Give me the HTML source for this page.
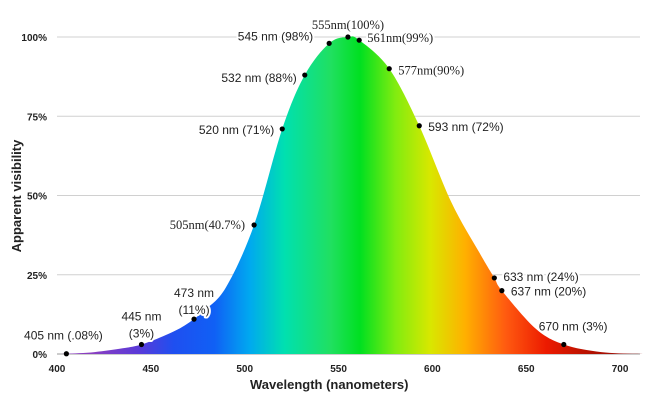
<!DOCTYPE html>
<html><head><meta charset="utf-8"><style>
html,body{margin:0;padding:0;background:#fff;}
svg{display:block;}
.lb{font-family:"Liberation Sans",sans-serif;font-size:12px;fill:#222;}
.sf{font-family:"Liberation Serif","Noto Serif CJK SC",serif;font-size:12.5px;fill:#222;}
.tk{font-family:"Liberation Sans",sans-serif;font-size:10px;font-weight:bold;fill:#222;}
</style></head><body>
<svg id="chart" width="650" height="409">
<defs>
<linearGradient id="spec" gradientUnits="userSpaceOnUse" x1="57" y1="0" x2="640" y2="0">
<stop offset="0.06" stop-color="#8a3fc0"/>
<stop offset="0.14" stop-color="#5a3ad8"/>
<stop offset="0.2" stop-color="#1f4ff0"/>
<stop offset="0.27" stop-color="#1060f5"/>
<stop offset="0.33" stop-color="#00a8f0"/>
<stop offset="0.39" stop-color="#00e0b0"/>
<stop offset="0.47" stop-color="#20e060"/>
<stop offset="0.52" stop-color="#00e020"/>
<stop offset="0.58" stop-color="#80ec10"/>
<stop offset="0.64" stop-color="#d8e800"/>
<stop offset="0.7" stop-color="#ffb000"/>
<stop offset="0.77" stop-color="#ff5a10"/>
<stop offset="0.84" stop-color="#ec1a00"/>
<stop offset="0.92" stop-color="#b01000"/>
<stop offset="1" stop-color="#901010"/>
</linearGradient>
</defs>
<g id="grid"></g>
<path id="area" fill="url(#spec)"></path>
<g id="labels"></g>
<g id="dots"></g>
<g id="xticks"></g>
<text x="250" y="389" class="lb" style="font-weight:bold;font-size:13px">Wavelength (nanometers)</text>
<text transform="translate(21,196) rotate(-90)" text-anchor="middle" class="lb" style="font-weight:bold;font-size:13px">Apparent visibility</text>
</svg>
<script>
const curveWl = [400,405,420,435,445,458,468,478,490,505,520,532,545,555,561,577,593,610,625,633,637,655,670,690,712];
const curveVal = [0,0.08,0.6,1.8,3,6,9,13.5,21,40.7,71,88,98,100,99,90,72,48,32,24,20,8,3,0.6,0];
const yTicks = [0,25,50,75,100];
const xTicks = [400,450,500,550,600,650,700];
const pointWl = [405,445,473,505,520,532,545,555,561,577,593,633,637,670];
const pointVal = [0.08,3,11,40.7,71,88,98,100,99,90,72,24,20,3];
const pointText = [["405 nm (.08%)"],["445 nm","(3%)"],["473 nm","(11%)"],["505nm(40.7%)"],["520 nm (71%)"],["532 nm (88%)"],["545 nm (98%)"],["555nm(100%)"],["561nm(99%)"],["577nm(90%)"],["593 nm (72%)"],["633 nm (24%)"],["637 nm (20%)"],["670 nm (3%)"]];
// layout only: [dx, dy, anchor, serif]
const lay = [[-3,-18,"middle",0],[0,-28,"middle",0],[0,-26,"middle",0],[-9,0,"end",1],[-8,1,"end",0],[-8,3,"end",0],[-16,-7,"end",0],[0,-12,"middle",1],[8,-2,"start",1],[9,2,"start",1],[9,1,"start",0],[9,-1,"start",0],[9,1,"start",0],[-25,-18,"start",0]];
const NS="http://www.w3.org/2000/svg";
const x = wl => 57 + (wl-400)*1.877;
const y = v => 354 - v*3.17;
function el(t,a,p){const e=document.createElementNS(NS,t);for(const k in a)e.setAttribute(k,a[k]);p.appendChild(e);return e;}
const grid=document.getElementById('grid');
yTicks.forEach(v=>{
  const l=el('line',{x1:57,x2:640,y1:y(v),y2:y(v),stroke:v===0?'#999':'#d0d0d0','stroke-width':1},grid);
  
  
  const t=el('text',{x:47,y:y(v)+4,'text-anchor':'end',class:'tk'},grid);
  t.textContent=v+'%';
  
  
});
const xt=document.getElementById('xticks');
xTicks.forEach(v=>{
  const t=el('text',{x:x(v),y:372,'text-anchor':'middle',class:'tk'},xt);
  t.textContent=v;
  
  
});
const pts=curveWl.map((w,i)=>[x(w),y(curveVal[i])]);
let d=`M${x(curveWl[0])},${y(0)} L${pts[0][0]},${pts[0][1]}`;
for(let i=0;i<pts.length-1;i++){
  const p0=pts[Math.max(0,i-1)],p1=pts[i],p2=pts[i+1],p3=pts[Math.min(pts.length-1,i+2)];
  const c1=[p1[0]+(p2[0]-p0[0])/6,p1[1]+(p2[1]-p0[1])/6];
  const c2=[p2[0]-(p3[0]-p1[0])/6,p2[1]-(p3[1]-p1[1])/6];
  d+=` C${c1[0]},${c1[1]} ${c2[0]},${c2[1]} ${p2[0]},${p2[1]}`;
}
d+=` L${x(curveWl[curveWl.length-1])},${y(0)} Z`;
document.getElementById('area').setAttribute('d',d);
const dots=document.getElementById('dots'),labs=document.getElementById('labels');
pointWl.forEach((w,i)=>{
  const cx=x(w),cy=y(pointVal[i]);
  const c=el('circle',{cx:cx,cy:cy,r:2.6,fill:'#000'},dots);
  
  
  const L=lay[i];
  const lines=pointText[i];
  lines.forEach((s,j)=>{
    const tx=cx+L[0],ty=cy+L[1]+4+j*17;
    const bb=el('text',{x:tx,y:ty,'text-anchor':L[2],class:L[3]?'sf':'lb',stroke:'#fff','stroke-width':4,'stroke-linejoin':'round'},labs);
    bb.textContent=s;
    
    
    const t=el('text',{x:tx,y:ty,'text-anchor':L[2],class:L[3]?'sf':'lb'},labs);
    t.textContent=s;
    
    
  });
});
</script>
</body></html>
